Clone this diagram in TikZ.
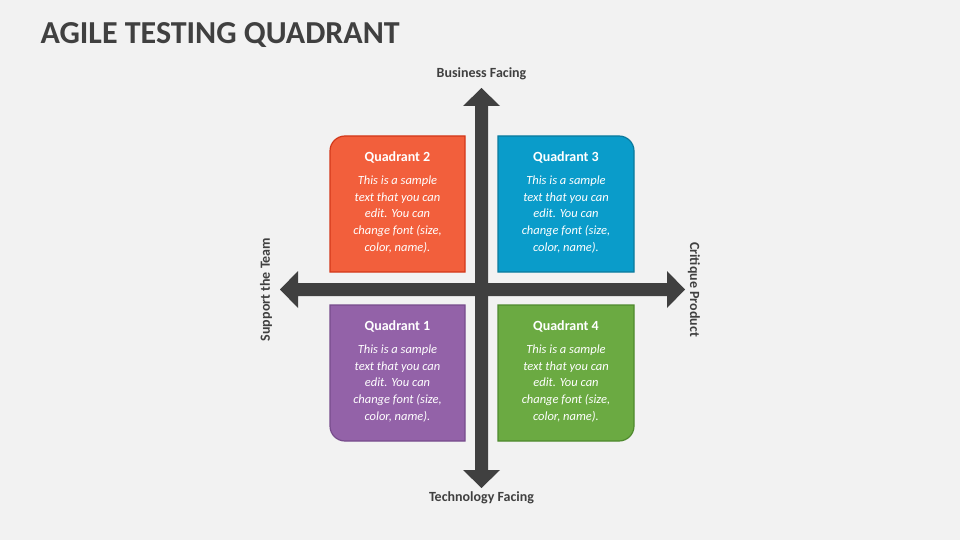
\documentclass[tikz,border=0pt]{standalone}
\usepackage{fontspec}
\setmainfont{Carlito}
\definecolor{bg}{HTML}{F2F2F2}
\definecolor{dk}{HTML}{404040}
\definecolor{qo}{HTML}{F25F3C}\definecolor{qob}{HTML}{D2381A}
\definecolor{qb}{HTML}{0A9CCA}\definecolor{qbb}{HTML}{0B7A9D}
\definecolor{qp}{HTML}{9362A8}\definecolor{qpb}{HTML}{774C8C}
\definecolor{qg}{HTML}{6BAA42}\definecolor{qgb}{HTML}{4F8A2E}
\tikzset{qt/.style={text=white,font=\bfseries\fontsize{14}{16}\selectfont,anchor=center},
 qx/.style={text=white,font=\itshape\fontsize{12.5}{16.8}\selectfont,align=center,anchor=north},
 lab/.style={text=dk,font=\bfseries\fontsize{14}{16}\selectfont}}
\begin{document}
\begin{tikzpicture}[x=1pt,y=-1pt]
\fill[bg] (0,0) rectangle (960,540);
\useasboundingbox (0,0) rectangle (960,540);
\node[anchor=west,text=dk,font=\bfseries\fontsize{32}{36}\selectfont] (title) at (37,35) {AGILE TESTING QUADRANT};
% boxes
\draw[fill=qo,draw=qob,line width=1.2pt] (330,272) [rounded corners=15pt]-- (330,136) [sharp corners]-- (465,136) -- (465,272) -- cycle;
\draw[fill=qb,draw=qbb,line width=1.2pt] (498,272) -- (498,136) [rounded corners=15pt]-- (634,136) [sharp corners]-- (634,272) -- cycle;
\draw[fill=qp,draw=qpb,line width=1.2pt] (330,305) [rounded corners=15pt]-- (330,441) [sharp corners]-- (465,441) -- (465,305) -- cycle;
\draw[fill=qg,draw=qgb,line width=1.2pt] (498,305) -- (498,441) [rounded corners=15pt]-- (634,441) [sharp corners]-- (634,305) -- cycle;
\foreach \n/\x/\y in {2/397.5/136,3/566/136,1/397.5/305,4/566/305}{
 \node[qt] (q\n) at (\x,\y+21) {Quadrant \n};
 \node[qx] (t\n) at (\x,\y+36) {This is a sample\\text that you can\\edit. You can\\change font (size,\\color, name).};
}
% arrows
\fill[dk] (475,106) -- (463,106) -- (481.5,88) -- (500,106) -- (488,106) -- (488,470) -- (500,470) -- (481.5,488) -- (463,470) -- (475,470) -- cycle;
\fill[dk] (298,283) -- (298,271) -- (280,289.5) -- (298,308) -- (298,296) -- (667,296) -- (667,308) -- (685,289.5) -- (667,271) -- (667,283) -- cycle;
\node[lab] (bf) at (481.5,74) {Business Facing};
\node[lab] (tf) at (481.5,498) {Technology Facing};
\node[lab,rotate=90] (st) at (266,289.5) {Support the Team};
\node[lab,rotate=-90] (cp) at (694,289.5) {Critique Product};
\end{tikzpicture}
\end{document}
